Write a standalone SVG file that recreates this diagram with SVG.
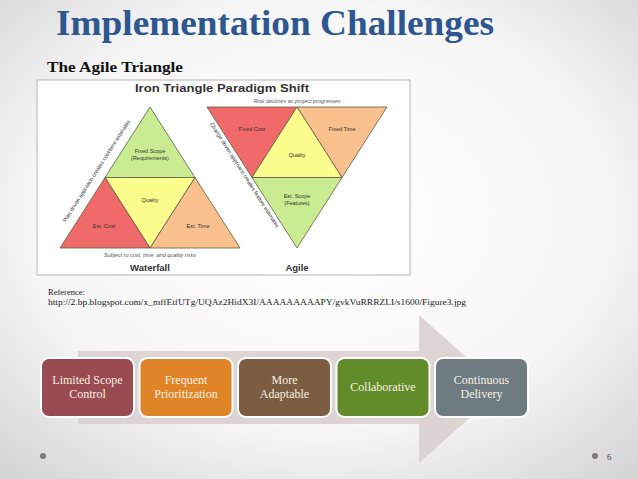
<svg xmlns="http://www.w3.org/2000/svg" width="638" height="479" viewBox="0 0 638 479">
<defs>
<radialGradient id="bg" cx="50%" cy="45%" r="75%">
<stop offset="0" stop-color="#ffffff"/>
<stop offset="0.6" stop-color="#f6f6f6"/>
<stop offset="1" stop-color="#d2d2d2"/>
</radialGradient>
<style>
.tri{stroke:#5d5d45;stroke-width:0.8;stroke-linejoin:round}
.s{font-family:"Liberation Sans",Arial,sans-serif;fill:#333;text-anchor:middle}
.lbl{font-size:5.5px}
.it{font-size:5.5px;font-style:italic;fill:#555}
.box{stroke:#ffffff;stroke-width:2}
.bt{font-family:"Liberation Serif","Times New Roman",serif;font-size:12px;fill:#f8f0e0;text-anchor:middle}
</style>
</defs>
<rect width="638" height="479" fill="url(#bg)"/>
<g id="title">
<text x="56" y="35" font-family="Liberation Serif,serif" font-weight="bold" font-size="35" fill="#2e5690" textLength="438" lengthAdjust="spacingAndGlyphs">Implementation Challenges</text>
</g>
<g id="subtitle">
<text x="47" y="72" font-family="Liberation Serif,serif" font-weight="bold" font-size="15" fill="#111" textLength="136" lengthAdjust="spacingAndGlyphs">The Agile Triangle</text>
</g>
<g id="figure">
<rect x="37" y="80" width="373" height="195" fill="#ffffff" stroke="#b5b5b5" stroke-width="1"/>
<text class="s" x="222" y="92" font-size="11" font-weight="bold" fill="#222" textLength="174" lengthAdjust="spacingAndGlyphs">Iron Triangle Paradigm Shift</text>
<g id="waterfall">
<polygon class="tri" points="150,107 105,177.5 195,177.5" fill="#c9ec92"/>
<polygon class="tri" points="105,177.5 195,177.5 150,248" fill="#fdfd8e"/>
<polygon class="tri" points="105,177.5 150,248 60,248" fill="#ef6a68"/>
<polygon class="tri" points="195,177.5 240,248 150,248" fill="#f7c08c"/>
<text class="s lbl" x="150" y="153">Fixed Scope</text>
<text class="s lbl" x="150" y="160">(Requirements)</text>
<text class="s lbl" x="150" y="202">Quality</text>
<text class="s lbl" x="104" y="228">Est. Cost</text>
<text class="s lbl" x="198" y="228">Est. Time</text>
<text class="s lbl" transform="translate(98,172) rotate(-57.4)" fill="#555">Plan driven approach creates cost/time estimates</text>
<text class="s it" x="150" y="257">Subject to cost, time, and quality risks</text>
<text class="s" x="150" y="271" font-size="9.5" font-weight="bold" fill="#222">Waterfall</text>
</g>
<g id="agile">
<polygon class="tri" points="207,107 297,107 252,177.5" fill="#ef6a68"/>
<polygon class="tri" points="297,107 387,107 342,177.5" fill="#f7c08c"/>
<polygon class="tri" points="297,107 342,177.5 252,177.5" fill="#fdfd8e"/>
<polygon class="tri" points="252,177.5 342,177.5 297,248" fill="#c9ec92"/>
<text class="s lbl" x="252" y="131">Fixed Cost</text>
<text class="s lbl" x="342" y="131">Fixed Time</text>
<text class="s lbl" x="297" y="157">Quality</text>
<text class="s lbl" x="297" y="198">Est. Scope</text>
<text class="s lbl" x="297" y="205">(Features)</text>
<text class="s lbl" transform="translate(243,176) rotate(57.4)" fill="#555">Change driven approach creates feature estimates</text>
<text class="s it" x="297" y="103">Risk declines as project progresses</text>
<text class="s" x="297" y="271" font-size="9.5" font-weight="bold" fill="#222">Agile</text>
</g>
</g>
<g id="reference" font-family="Liberation Serif,serif" font-size="8.5" fill="#222">
<text x="48" y="295">Reference:</text>
<text x="48" y="305" textLength="418" lengthAdjust="spacingAndGlyphs">http://2.bp.blogspot.com/x_mffEtfUTg/UQAz2HidX3I/AAAAAAAAAPY/gvkVuRRRZLI/s1600/Figure3.jpg</text>
</g>
<g id="connectors">
<polygon points="78,351 419,351 419,315 502,389 419,463 419,424 78,424" fill="#dccfcf" opacity="0.9"/>
</g>
<g id="box1">
<rect class="box" x="41" y="358" width="93" height="59" rx="8" fill="#9a4a51"/>
<text class="bt" x="87.5" y="384">Limited Scope</text>
<text class="bt" x="87.5" y="398">Control</text>
</g>
<g id="box2">
<rect class="box" x="139.5" y="358" width="93" height="59" rx="8" fill="#df8427"/>
<text class="bt" x="186" y="384">Frequent</text>
<text class="bt" x="186" y="398">Prioritization</text>
</g>
<g id="box3">
<rect class="box" x="238" y="358" width="93" height="59" rx="8" fill="#7c5d42"/>
<text class="bt" x="284.5" y="384">More</text>
<text class="bt" x="284.5" y="398">Adaptable</text>
</g>
<g id="box4">
<rect class="box" x="336.5" y="358" width="93" height="59" rx="8" fill="#628b29"/>
<text class="bt" x="383" y="391">Collaborative</text>
</g>
<g id="box5">
<rect class="box" x="435" y="358" width="93" height="59" rx="8" fill="#6e7b80"/>
<text class="bt" x="481.5" y="384">Continuous</text>
<text class="bt" x="481.5" y="398">Delivery</text>
</g>
<g id="footer">
<circle cx="43" cy="456" r="3" fill="#7a7a7a"/>
<circle cx="595" cy="456" r="3" fill="#7a7a7a"/>
<text x="607" y="460" font-family="Liberation Serif,serif" font-size="9" fill="#444">6</text>
</g>
</svg>
